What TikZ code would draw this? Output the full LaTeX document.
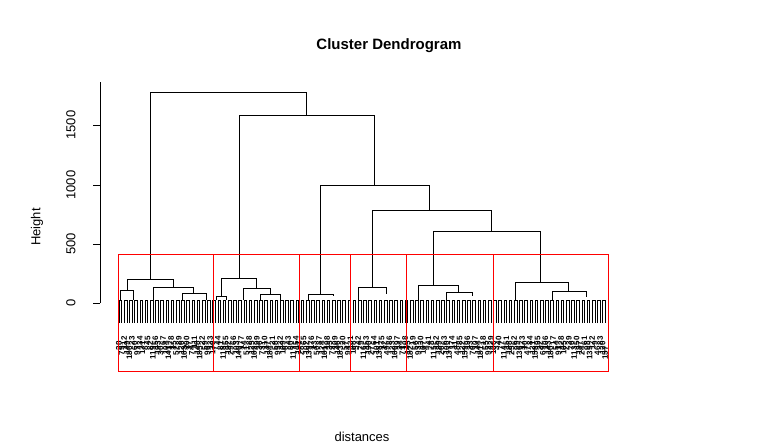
\documentclass[tikz,border=0pt]{standalone}
\usepackage{fontspec}
\setmainfont{Liberation Sans}
\begin{document}
\begin{tikzpicture}[x=1pt, y=-1pt]
    \tikzstyle{branch} = [line width=0.55pt, black]
    \tikzstyle{cut} = [line width=0.6pt, red]
    \tikzstyle{label} = [font=\fontsize{13}{15}\selectfont, inner sep=0pt]
    % merge: left x, right x, height, left child height, right child height
    \newcommand{\merge}[5]{\draw [branch] (#1,#4) |- (#2,#3) -- (#2,#5);}
    \useasboundingbox (0,0) rectangle (777,445);

    \node [font=\bfseries\fontsize{15}{17}\selectfont] (title) at (389,46) {Cluster Dendrogram};
    \node [label] (xlab) at (362,437) {distances};
    \node [label, rotate=90] (ylab) at (37,227) {Height};

    % axis
    \draw [branch] (100,82) -- (100,303);
    \foreach \h/\y in {0/303,500/244,1000/185,1500/125} {
        \draw [branch] (100,\y) -- (93,\y);
        \node [label, rotate=90] (tick\h) at (71,\y) {\h};
    }

    % upper tree
    \merge{150}{306}{92}{279}{115}
    \merge{239}{374}{115}{278}{185}
    \merge{320}{429}{185}{294}{210}
    \merge{372}{491}{210}{287}{231}
    \merge{433}{540}{231}{285}{282}

    % clusters
    \merge{127}{173}{279}{290}{287}
    \merge{120}{133}{290}{300}{300}
    \merge{153}{193}{287}{300}{293}
    \merge{182}{206}{293}{300}{300}
    \merge{221}{256}{278}{296}{288}
    \merge{216}{226}{296}{300}{300}
    \merge{243}{270}{288}{300}{294}
    \merge{260}{280}{294}{300}{300}
    \merge{308}{333}{294}{300}{296}
    \merge{358}{386}{287}{300}{294}
    \merge{418}{458}{285}{300}{292}
    \merge{446}{472}{292}{300}{296}
    \merge{515}{568}{282}{300}{291}
    \merge{552}{586}{291}{300}{297}

    % leaves
    \foreach \i in {0,2,...,186} {
        \pgfmathsetmacro{\xa}{119+2.6*\i}
        \pgfmathsetmacro{\xb}{119+2.6*(\i+1)}
        \draw [branch] (\xa,323) -- (\xa,300) -- (\xb,300) -- (\xb,323);
    }
    \foreach \i in {1,...,188} {
        \pgfmathtruncatemacro{\lab}{mod(\i*37,200)+1}
        \node [font=\bfseries\fontsize{8}{8}\selectfont, rotate=90, anchor=east, inner sep=0pt]
            (leaf\i) at ({119+2.6*(\i-1)},{336+mod(\i,3)*5}) {\lab};
    }

    % cut boxes
    \draw [cut] (118,254) rectangle (608,371);
    \foreach \x in {213,299,350,406,493} \draw [cut] (\x,254) -- (\x,371);
\end{tikzpicture}
\end{document}
